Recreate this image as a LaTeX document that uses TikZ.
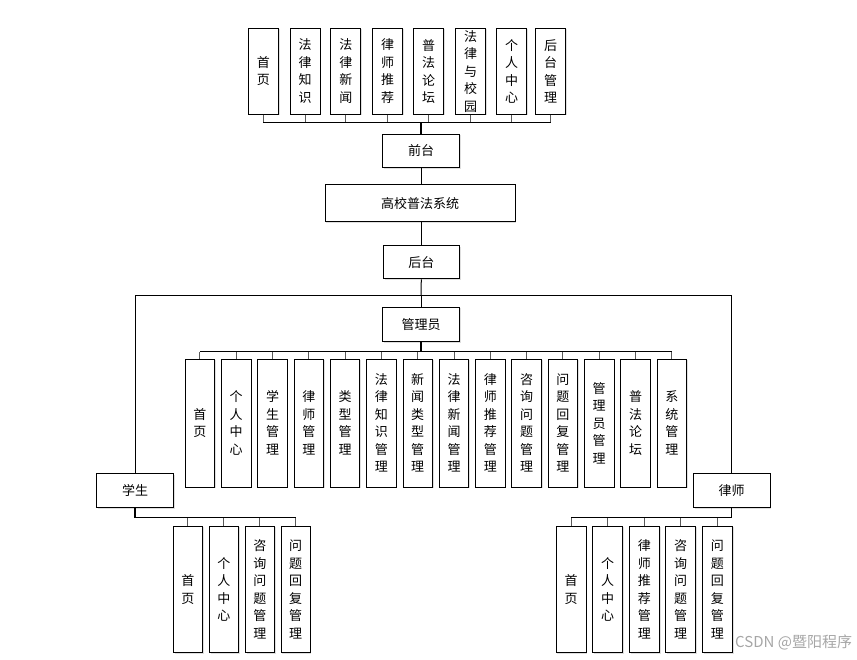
\documentclass[tikz,border=0pt]{standalone}
\usepackage{fontspec}
\setmainfont{Noto Sans CJK SC}
\usetikzlibrary{shadows}
\begin{document}
\begin{tikzpicture}[x=1pt,y=-1pt,
  box/.style={draw=black,line width=0.9pt,fill=white,inner sep=0pt,align=center,
    drop shadow={opacity=0.25,shadow xshift=1.2pt,shadow yshift=-1.2pt},
    font=\fontsize{13}{17.5}\selectfont},
  hbox/.style={box,minimum height=34pt},
  vbox/.style={box,minimum width=30pt},
  tick/.style={draw=black!65,line width=0.9pt},
  stem/.style={draw=black,line width=1.3pt},
  bus/.style={draw=black,line width=1pt}]
\useasboundingbox (0,0) rectangle (857,660);
% top row
\foreach \x/\t [count=\i] in {263.3/首\\页, 305/法\\律\\知\\识, 345.8/法\\律\\新\\闻, 387.7/律\\师\\推\\荐,
  428.7/普\\法\\论\\坛, 470.5/法\\律\\与\\校\\园, 511.7/个\\人\\中\\心, 550.7/后\\台\\管\\理}
  \node[vbox,minimum height=86pt] (t\i) at (\x,71.3) {\t};
\node[hbox,minimum width=76.6pt,minimum height=33.4pt] (qt) at (421,151) {前台};
\node[hbox,minimum width=190pt,minimum height=36.7pt] (sys) at (420,203.3) {高校普法系统};
\node[hbox,minimum width=76pt,minimum height=33.3pt] (ht) at (421.3,262.3) {后台};
\node[hbox,minimum width=77pt,minimum height=34.4pt] (gly) at (421,324.5) {管理员};
\node[hbox,minimum width=76.6pt] (xs) at (135,490.3) {学生};
\node[hbox,minimum width=76.7pt] (ls) at (731.7,490.3) {律师};
% admin children
\foreach \t [count=\i from 0] in {首\\页, 个\\人\\中\\心, 学\\生\\管\\理, 律\\师\\管\\理, 类\\型\\管\\理,
  法\\律\\知\\识\\管\\理, 新\\闻\\类\\型\\管\\理, 法\\律\\新\\闻\\管\\理, 律\\师\\推\\荐\\管\\理,
  咨\\询\\问\\题\\管\\理, 问\\题\\回\\复\\管\\理, 管\\理\\员\\管\\理, 普\\法\\论\\坛, 系\\统\\管\\理}
  \node[vbox,minimum width=29.5pt,minimum height=128pt] (a\i) at ({199.9+36.3*\i},423) {\t};
% student children
\foreach \x/\t [count=\i] in {187.8/首\\页, 223.8/个\\人\\中\\心, 259.8/咨\\询\\问\\题\\管\\理, 295.5/问\\题\\回\\复\\管\\理}
  \node[vbox,minimum width=29pt,minimum height=126.7pt] (s\i) at (\x,589.4) {\t};
% lawyer children
\foreach \x/\t [count=\i] in {571/首\\页, 607.7/个\\人\\中\\心, 644.3/律\\师\\推\\荐\\管\\理, 680.7/咨\\询\\问\\题\\管\\理, 717.3/问\\题\\回\\复\\管\\理}
  \node[vbox,minimum width=30pt,minimum height=126.7pt] (l\i) at (\x,589.4) {\t};
% coordinates
\coordinate (fb) at (421,122.7);
\coordinate (hb) at (421,295.7);
\coordinate (gb) at (421,351.7);
\coordinate (sb) at (135,517.7);
\coordinate (lb) at (731.7,517.7);
% connectors
\begin{scope}[on background layer/.try]
\foreach \i in {1,...,8} \draw[tick] (t\i.south) -- (t\i.south |- fb);
\draw[bus] (t1.south |- fb) -- (t8.south |- fb);
\draw[stem] (fb) -- (qt.north);
\draw[bus] (qt.south) -- (qt.south |- sys.north);
\draw[bus] (ht.north |- sys.south) -- (ht.north);
\draw[bus] (ht.south) -- (hb);
\draw[bus] (xs.north) |- (hb);
\draw[bus] (ls.north) |- (hb);
\draw[bus] (hb) -- (gly.north);
\draw[stem] (gly.south) -- (gb);
\foreach \i in {0,...,13} \draw[tick] (a\i.north) -- (a\i.north |- gb);
\draw[bus] (a0.north |- gb) -- (a13.north |- gb);
\draw[stem] (xs.south) -- (sb);
\foreach \i in {1,...,4} \draw[tick] (s\i.north) -- (s\i.north |- sb);
\draw[bus] (sb) -- (s4.north |- sb);
\draw[stem] (ls.south) -- (lb);
\foreach \i in {1,...,5} \draw[tick] (l\i.north) -- (l\i.north |- lb);
\draw[bus] (lb) -- (l1.north |- lb);
\end{scope}
% watermark
\node[text=black!35,font=\fontsize{15}{17}\selectfont,anchor=west,inner sep=0pt] (wm) at (735,642) {CSDN @暨阳程序};
\end{tikzpicture}
\end{document}
